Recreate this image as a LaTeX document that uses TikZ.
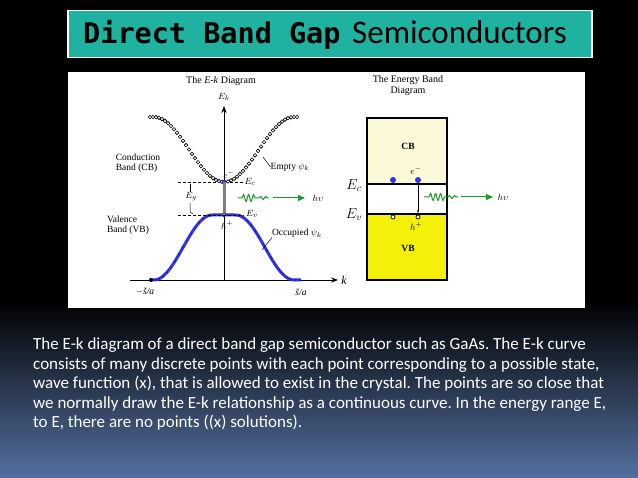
\documentclass[tikz,border=0pt]{standalone}
\usepackage{fontspec}
\setmainfont{Carlito}
\newfontfamily\monof{DejaVu Sans Mono}
\newfontfamily\serf{Liberation Serif}
\usetikzlibrary{decorations.pathmorphing,arrows.meta}
\frenchspacing
\definecolor{teal1}{RGB}{32,178,160}
\definecolor{navyb}{RGB}{84,112,160}
\definecolor{cbfill}{RGB}{251,248,216}
\definecolor{vbfill}{RGB}{245,240,10}
\definecolor{wgreen}{RGB}{30,150,40}
\definecolor{bblue}{RGB}{50,50,230}
\tikzset{
 lab/.style={font=\serf\fontsize{9.5}{10.5}\selectfont, inner sep=0pt, align=center},
 body/.style={anchor=west, text=white, font=\fontsize{17}{18}\selectfont, inner sep=0pt},
 wave/.style={wgreen, line width=1pt},
 gapdash/.style={densely dashed, line width=0.4pt},
}
\begin{document}
\begin{tikzpicture}[x=1pt,y=-1pt]
\useasboundingbox (0,0) rectangle (638,478);
\fill[black] (0,0) rectangle (638,478);
\shade[top color=black, bottom color=navyb] (0,300) rectangle (638,478);
% title
\node[draw=white, line width=1.2pt, fill=teal1, minimum width=524pt, minimum height=47pt, inner sep=0pt] (title) at (330,34) {};
\node[anchor=base west, inner sep=0pt, font=\monof\bfseries\fontsize{28.5}{30}\selectfont] (t1) at (83,44) {Direct Band Gap};
\node[anchor=base west, inner sep=0pt, font=\fontsize{33}{35}\selectfont] (t2) at (352,44) {Semiconductors};
% white panel
\fill[white] (68,72) rectangle (585,308);
% E-k diagram
\node[lab, font=\serf\fontsize{10}{11}\selectfont] (ekt) at (221,81) {The \textit{E-k} Diagram};
\coordinate (ka) at (130,280); \coordinate (kb) at (338,280);
\coordinate (ea) at (224,280); \coordinate (eb) at (224,106);
\draw[-{Stealth[length=7pt]}, line width=0.9pt] (ka) -- (kb);
\draw[-{Stealth[length=7pt]}, line width=0.9pt] (ea) -- (eb);
\node[lab] (ek) at (224,97) {$E_k$};
\node[lab, font=\serf\itshape\fontsize{12}{12}\selectfont] (kl) at (344,280) {k};
% VB
\draw[bblue, line width=3pt] plot[domain=-73:77, samples=80] ({224+\x},{215+65*(1-cos(180*min(max((abs(\x)-12)/58,0),1)))/2});
\foreach \d in {-73,-69,...,77}{
  \fill[bblue!80!black] ({224+\d},{215+65*(1-cos(180*min(max((abs(\d)-12)/58,0),1)))/2}) circle (1.3pt);
}
\fill (151,280) circle (2pt);
% CB
\foreach \d in {-74,-71,...,74}{
  \draw[line width=0.6pt, fill=white] ({224+\d},{182-65*(1-cos(180*min(abs(\d)/70,1)))/2}) circle (1.8pt);
}
\fill[bblue] (224,182) circle (2.2pt);
% transition bar
\fill[gray] (222.5,182) rectangle (225.5,215);
\draw[line width=0.5pt, fill=white] (224,215) circle (1.8pt);
\node[lab] (em1) at (229,174) {$e^-$};
\node[lab] (hp1) at (227,225) {$h^+$};
% Ec Ev
\draw[gapdash] (178,182) -- (218,182);
\draw[gapdash] (230,182) -- (244,182);
\draw[gapdash] (178,215) -- (244,215);
\node[lab] (ec1) at (250,182) {$E_c$};
\node[lab] (ev1) at (252,214) {$E_v$};
\node[lab] (eg1) at (191,197) {$E_g$};
\draw[line width=0.5pt] (190,184) -- (190,192);
\draw[line width=0.5pt] (190,203) -- (190,212) -- (193,214);
% labels
\node[lab, align=left] (cb) at (138,163) {Conduction\\Band (CB)};
\node[lab, align=left] (vb) at (128,225) {Valence\\Band (VB)};
\node[lab] (emp) at (290,167) {Empty $\psi_k$};
\coordinate (empc) at (263,157);
\draw[line width=0.5pt] (emp.west) -- (empc);
\node[lab] (occ) at (297,233) {Occupied $\psi_k$};
\coordinate (occc) at (262,250);
\draw[line width=0.5pt] (occ.south west) -- (occc);
\node[lab] (mpa) at (145,292) {$-$\textit{š/a}};
\node[lab] (ppa) at (301,292) {\textit{š/a}};
% photon 1
\coordinate (w1a) at (238,198); \coordinate (w1b) at (257,198); \coordinate (w1c) at (305,198);
\draw[wave] (w1a) -- ++(4,0) decorate[decoration={snake, amplitude=3.5pt, segment length=5pt}]{-- (w1b)} -- ++(2,0) decorate[decoration={snake, amplitude=1.5pt, segment length=5pt}]{-- ++(10,0)};
\draw[wave, -{Triangle[length=7pt,width=6pt]}] (273,198) -- (w1c);
\node[lab] (hv1) at (318,198) {$h\upsilon$};
% Energy band diagram
\node[lab, font=\serf\fontsize{10}{11}\selectfont] (ebt) at (408,86) {The Energy Band\\Diagram};
\fill[cbfill] (367,118) rectangle (447,184);
\fill[vbfill] (367,214) rectangle (447,280);
\draw[line width=1.2pt] (367,118) rectangle (447,280);
\draw[line width=1.2pt] (367,184) -- (447,184);
\draw[line width=1.2pt] (367,214) -- (447,214);
\node[lab, font=\serf\bfseries\fontsize{9.5}{10}\selectfont] (cbl) at (408,146) {CB};
\node[lab, font=\serf\bfseries\fontsize{9.5}{10}\selectfont] (vbl) at (408,248) {VB};
\node[lab, font=\serf\fontsize{14}{14}\selectfont] (ec2) at (354,186) {$E_c$};
\node[lab, font=\serf\fontsize{14}{14}\selectfont] (ev2) at (354,215) {$E_v$};
\fill[bblue] (393,180) circle (3pt);
\fill[bblue] (418,180) circle (3pt);
\node[lab] (em2) at (416,170) {$e^-$};
\draw[line width=0.7pt, -{Stealth[length=3pt]}] (418,184) -- (418,213);
\draw[line width=0.7pt, fill=white] (393,217) circle (2pt);
\draw[line width=0.7pt, fill=white] (418,217) circle (2pt);
\node[lab] (hp2) at (416,226) {$h^+$};
\coordinate (w2a) at (424,197); \coordinate (w2b) at (446,197); \coordinate (w2c) at (493,197);
\draw[wave] (w2a) -- ++(5,0) decorate[decoration={snake, amplitude=3.5pt, segment length=5pt}]{-- (w2b)} -- ++(2,0) decorate[decoration={snake, amplitude=1.5pt, segment length=5pt}]{-- ++(10,0)};
\draw[wave, -{Triangle[length=7pt,width=6pt]}] (461,197) -- (w2c);
\node[lab] (hv2) at (503,197) {$h\upsilon$};
% body text
\node[body] (l1) at (33,345) {The E-k diagram of a direct band gap semiconductor such as GaAs. The E-k curve};
\node[body] (l2) at (33,365) {consists of many discrete points with each point corresponding to a possible state,};
\node[body] (l3) at (33,384) {wave function (x), that is allowed to exist in the crystal. The points are so close that};
\node[body] (l4) at (33,404) {we normally draw the E-k relationship as a continuous curve. In the energy range E,};
\node[body] (l5) at (33,423) {to E, there are no points ((x) solutions).};
\end{tikzpicture}
\end{document}
